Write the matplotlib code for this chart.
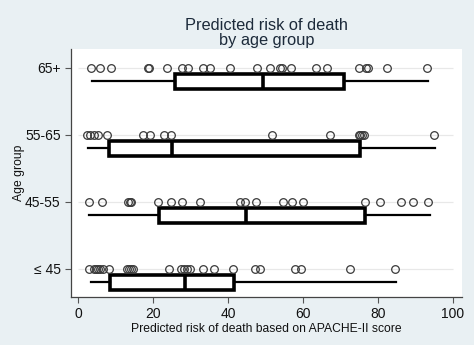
import matplotlib.pyplot as plt
import numpy as np

plt.rcParams['font.family'] = ['Liberation Sans', 'DejaVu Sans']

groups = ['\u2264 45', '45-55', '55-65', '65+']

# individual predicted risks (%) per age group
risk_le45 = [3.0, 4.1, 4.8, 5.4, 5.9, 6.6, 8.3, 13.0, 13.6, 14.0, 14.6, 24.1,
             27.5, 28.3, 29.0, 29.9, 33.4, 36.3, 41.2, 47.2, 48.5, 57.9, 59.5,
             72.4, 84.5]
risk_45_55 = [2.8, 6.3, 13.4, 13.7, 14.0, 21.4, 24.8, 27.8, 32.4, 43.2, 44.5,
              47.5, 54.5, 57.1, 59.9, 76.4, 80.4, 86.1, 89.4, 93.4]
risk_55_65 = [2.3, 3.2, 4.1, 5.2, 7.6, 17.2, 19.2, 22.9, 24.8, 51.8, 67.2,
              74.8, 75.2, 75.7, 76.3, 94.8]
risk_65 = [3.5, 5.9, 8.7, 18.7, 19.0, 23.8, 27.8, 29.4, 33.4, 35.2, 40.5, 47.6,
           51.2, 53.7, 54.3, 56.7, 63.5, 66.3, 75.0, 76.8, 77.4, 82.3, 93.0]
points = [risk_le45, risk_45_55, risk_55_65, risk_65]

# box summaries per group: lower whisker, q1, median, q3, upper whisker
whisk_lo = [3.5, 3.0, 2.6, 3.8]
q1 = [8.5, 21.6, 8.1, 25.7]
med = [28.5, 44.7, 25.1, 49.4]
q3 = [41.6, 76.4, 75.2, 70.8]
whisk_hi = [84.8, 93.9, 95.2, 93.2]

bg = '#e9f0f3'
fig = plt.figure(figsize=(4.74, 3.45), dpi=100, facecolor=bg)
ax = fig.add_axes([0.150, 0.139, 0.824, 0.719])
ax.set_facecolor('white')

rows = np.arange(1, len(groups) + 1)
box_off = 0.2

# light guide lines at the strip rows
ax.hlines(rows, 0, 100, color='#e8e8e8', lw=0.9, zorder=0)

for r, vals in zip(rows, points):
    ax.plot(vals, np.full(len(vals), r), 'o', ms=5.5, mfc='none',
            mec='#3a3a3a', mew=0.9, zorder=3)

stats = []
for i in range(len(groups)):
    stats.append(dict(whislo=whisk_lo[i], q1=q1[i], med=med[i], q3=q3[i],
                      whishi=whisk_hi[i], fliers=[]))
ax.bxp(stats, positions=rows - box_off, widths=0.22, vert=False,
       showcaps=False, showfliers=False, patch_artist=True,
       boxprops=dict(facecolor='white', edgecolor='black', lw=2.6),
       medianprops=dict(color='black', lw=2.6),
       whiskerprops=dict(color='black', lw=1.6))

ax.set_xlim(-1.9, 102.3)
ax.set_ylim(0.58, 4.28)
ax.set_xticks([0, 20, 40, 60, 80, 100])
ax.set_yticks(rows)
ax.set_yticklabels(groups)
ax.tick_params(axis='both', labelsize=10, colors='#555555', labelcolor='#111111',
               length=4, width=0.8)

for s in ['top', 'right']:
    ax.spines[s].set_visible(False)
for s in ['left', 'bottom']:
    ax.spines[s].set_color('#444444')
    ax.spines[s].set_linewidth(0.9)

ax.set_xlabel('Predicted risk of death based on APACHE-II score', fontsize=8.7,
              color='#111111', labelpad=1)
ax.set_ylabel('Age group', fontsize=8.7, color='#111111')
ax.yaxis.set_label_coords(-0.118, 0.5)
ax.set_title('Predicted risk of death\nby age group', fontsize=11.8,
             color='#1c2a3a', linespacing=1.0, pad=3)

fig.savefig('out.png', dpi=100, facecolor=bg)
